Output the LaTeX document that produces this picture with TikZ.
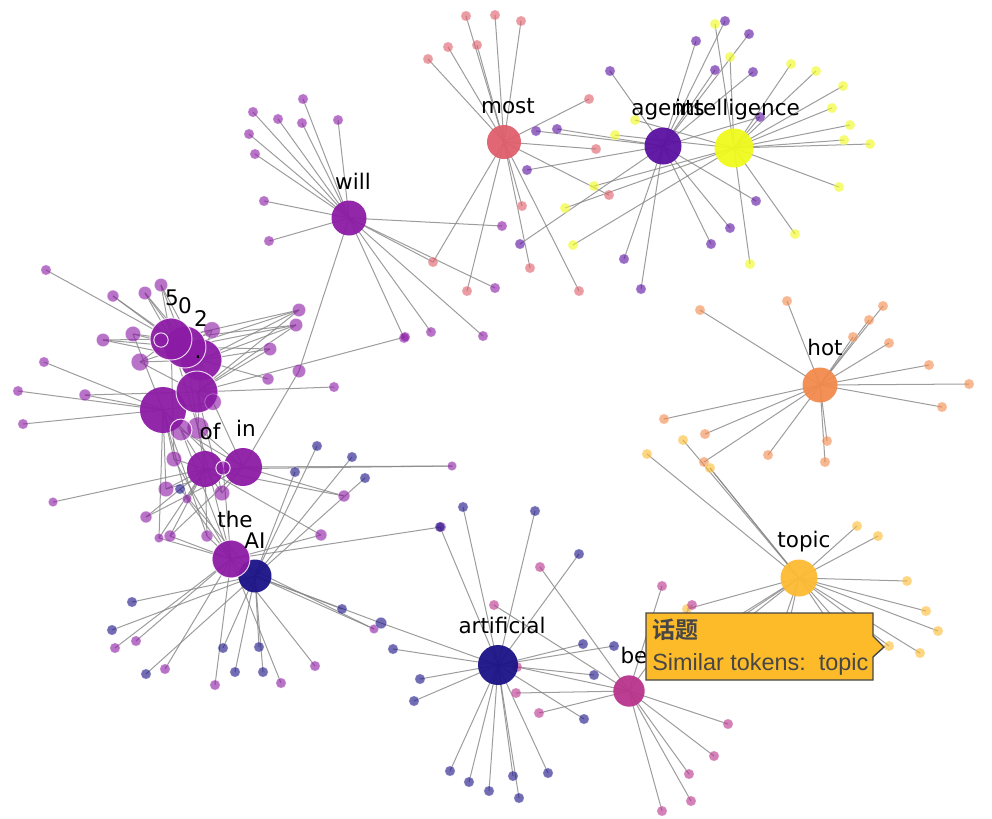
\documentclass[tikz,border=0pt]{standalone}
\usepackage{fontspec}
\setmainfont{DejaVu Sans}
\newfontfamily\tipfont{Liberation Sans}
\newfontfamily\cjk[BoldFont={Noto Sans CJK SC Bold}]{Noto Sans CJK SC}
\definecolor{willc}{HTML}{8C1BA5}
\definecolor{mostc}{HTML}{DE5F6B}
\definecolor{agentsc}{HTML}{5A10A0}
\definecolor{intelc}{HTML}{EFFA1C}
\definecolor{hotc}{HTML}{F28A4C}
\definecolor{topicc}{HTML}{FDBB33}
\definecolor{artc}{HTML}{1B1287}
\definecolor{bec}{HTML}{B8348C}
\definecolor{tipc}{HTML}{FDBB2A}
\definecolor{tiptext}{HTML}{464646}
\pgfdeclarelayer{links}
\pgfsetlayers{links,main}
\tikzset{
  hub/.style={circle,inner sep=0pt,minimum size=2*#1*0.025cm,fill opacity=.95},
  whitehub/.style={hub=#1,draw=white,draw opacity=.8,line width=.7pt},
  leaf/.style={circle,inner sep=0pt,minimum size=2.2*#1*0.025cm,fill opacity=.62,draw=white,draw opacity=.35,line width=.5pt},
  ringleaf/.style={leaf=#1,draw opacity=.85,line width=.7pt},
  link/.style={draw=black!48,line width=.72pt,opacity=.8},
  toklabel/.style={anchor=base,inner sep=0pt,font=\fontsize{15.3}{15.3}\selectfont},
}
% #1 colour, #2 id/x/y/radius/{hubs}
\newcommand{\leaves}[2]{%
  \foreach \i/\x/\y/\lr/\hubs in {#2}{%
    \node[leaf=\lr,fill=#1] (#1\i) at (\x,\y) {};
    \begin{pgfonlayer}{links}
      \foreach \h in \hubs {\draw[link] (\h.center) -- (#1\i.center);}
    \end{pgfonlayer}
  }%
}

\begin{document}
\begin{tikzpicture}[x=0.025cm,y=-0.025cm]
\useasboundingbox (0,0) rectangle (992,818);
%%Leaf behind the hub
\node[leaf=4.7,fill=bec] (bec5) at (517,667) {};
%%Hubs
\node[hub=17.5,fill=willc] (will) at (349,218) {};
\node[hub=17,fill=mostc] (most) at (504,142) {};
\node[hub=18.5,fill=agentsc] (agents) at (663,146) {};
\node[hub=19.5,fill=intelc] (intelligence) at (734,148) {};
\node[hub=17.5,fill=hotc] (hot) at (820,385) {};
\node[hub=18.5,fill=topicc] (topic) at (799,578) {};
\node[hub=20,fill=artc] (artificial) at (498,665) {};
\node[hub=15.7,fill=bec] (be) at (629,691) {};
\node[hub=16.5,fill=artc] (ai) at (255,576) {};
\node[whitehub=19,fill=willc] (the) at (231,559) {};
\node[hub=18,fill=willc] (of) at (205,469) {};
\node[hub=19,fill=willc] (in) at (243,467) {};
\node[hub=23,fill=willc] (big) at (163,410) {};
\node[whitehub=21,fill=willc] (two) at (201,360) {};
\node[whitehub=21,fill=willc] (dot) at (197,392) {};
\node[whitehub=21,fill=willc] (zero) at (185,347) {};
\node[whitehub=21,fill=willc] (five) at (171,339) {};

%%Leaves
\leaves{willc}{
  w1/253/112/4.7/{will}, w2/303/99/4.7/{will}, w3/278/119/4.7/{will}, w4/302/123/4.7/{will},
  w5/338/120/4.7/{will}, w6/249/134/4.7/{will}, w7/255/154/4.7/{will}, w8/264/201/4.7/{will},
  w9/269/241/4.7/{will}, w10/502/226/4.7/{will}, w11/495/288/4.7/{will}, w12/431/332/4.7/{will},
  w13/483/336/4.7/{will}, w14/404/338/4.7/{will},
  c1/46/270/4.7/{five}, c2/113/296/5.3/{five,zero}, c3/145/293/6/{five,zero,two},
  c4/161/285/6/{five,zero,two}, c5/103/340/6/{five,zero,two}, c6/133/334/7/{five,zero,big},
  c7/140/362/8/{five,zero,two,dot}, c8/44/362/4.7/{big}, c9/18/391/4.7/{big},
  c10/85/395/5.3/{big,dot}, c11/23/424/4.7/{big}, c12/212/330/7.5/{five,zero,two},
  c13/299/310/6/{five,zero,two,dot}, c14/296/325/6/{five,zero,two,dot},
  c15/270/349/6/{zero,two,dot}, c16/268/379/5.3/{two}, c17/299/371/6/{in,will},
  c18/334/387/4.7/{dot}, c19/213/402/7.5/{five,zero,two,dot,big,in},
  c20/198/428/10/{five,zero,two,of,in,the}, c21/174/459/7/{five,big,of,the},
  c22/166/489/7/{big,of,in}, c23/187/499/4.3/{of,big,the}, c24/222/493/7/{of,in,dot},
  c25/53/502/4.3/{of}, c26/146/517/5.3/{of,in}, c27/159/538/4.3/{big,of,the},
  c28/170/536/5.3/{of,in,the}, c29/207/536/5.3/{big,the,of}, c30/321/535/5.3/{of,the},
  c31/344/496/5.3/{in,of}, c32/452/466/4.3/{in,of}, c33/374/629/4.3/{the,ai},
  c34/315/666/4.7/{the}, c35/281/683/4.7/{the}, c36/215/685/4.7/{the}, c37/165/669/4.7/{the},
  c38/136/641/4.7/{the}, c39/115/648/4.7/{the}, c40/441/527/4.7/{the}, c41/405/337/4.7/{dot}}
\leaves{mostc}{
  1/466/16/4.7/{most}, 2/495/15/4.7/{most}, 3/521/21/4.7/{most}, 4/448/47/4.7/{most},
  5/477/45/4.7/{most}, 6/428/59/4.7/{most}, 7/589/99/4.7/{most}, 8/596/149/4.7/{most},
  9/609/195/4.7/{most}, 10/522/206/4.7/{most}, 11/530/268/4.7/{most}, 12/467/291/4.7/{most},
  13/433/262/4.7/{most,will}, 14/579/291/4.7/{most}}
\leaves{agentsc}{
  1/610/71/4.7/{agents}, 2/696/41/4.7/{agents}, 3/725/21/4.7/{agents}, 4/749/34/4.7/{agents},
  5/715/70/4.7/{agents}, 6/753/72/4.7/{agents}, 7/760/117/4.7/{agents,intelligence},
  8/557/129/4.7/{agents}, 9/536/131/4.7/{agents}, 10/527/170/4.7/{agents}, 11/520/244/4.7/{agents},
  12/624/259/4.7/{agents}, 13/641/289/4.7/{agents}, 14/711/244/4.7/{agents}, 15/730/228/4.7/{agents},
  16/756/201/4.7/{agents}}
\leaves{intelc}{
  1/715/24/4.7/{intelligence}, 2/730/57/4.7/{intelligence}, 3/791/64/4.7/{intelligence},
  4/816/71/4.7/{intelligence}, 5/843/86/4.7/{intelligence}, 6/832/108/4.7/{intelligence},
  7/850/125/4.7/{intelligence}, 8/844/140/4.7/{intelligence}, 9/870/144/4.7/{intelligence},
  10/839/187/4.7/{intelligence}, 11/795/234/4.7/{intelligence}, 12/750/264/4.7/{intelligence},
  13/573/245/4.7/{intelligence}, 14/565/208/4.7/{intelligence}, 15/594/186/4.7/{intelligence},
  16/615/135/4.7/{intelligence}, 17/635/120/4.7/{intelligence}}
\leaves{hotc}{
  1/700/310/4.7/{hot}, 2/787/301/4.7/{hot}, 3/883/306/4.7/{hot}, 4/869/320/4.7/{hot},
  5/853/337/4.7/{hot}, 6/889/343/4.7/{hot}, 7/929/365/4.7/{hot}, 8/969/384/4.7/{hot},
  9/942/407/4.7/{hot}, 10/664/419/4.7/{hot}, 11/705/434/4.7/{hot}, 12/704/462/4.7/{hot},
  13/768/455/4.7/{hot}, 14/827/441/4.7/{hot}, 15/825/462/4.7/{hot}}
\leaves{topicc}{
  1/683/440/4.7/{topic}, 2/647/454/4.7/{topic}, 3/710/468/4.7/{topic,topic},
  4/857/526/4.7/{topic}, 5/878/536/4.7/{topic}, 6/907/581/4.7/{topic}, 7/926/611/4.7/{topic},
  8/938/631/4.7/{topic}, 9/920/653/4.7/{topic}, 10/889/646/4.7/{topic}, 11/687/609/4.7/{topic},
  12/700/640/4.7/{topic}, 13/695/648/4.7/{topic}, 14/710/648/4.7/{topic}, 15/772/655/4.7/{topic},
  16/782/655/4.7/{topic}, 17/848/650/4.7/{topic}, 18/862/650/4.7/{topic}}
\leaves{artc}{
  1/463/507/4.7/{artificial}, 2/535/511/4.7/{artificial}, 3/440/527/4.7/{artificial},
  4/579/554/4.7/{artificial}, 5/381/623/5.2/{artificial,ai}, 6/393/649/4.7/{artificial},
  7/420/679/4.7/{artificial}, 8/414/701/4.7/{artificial}, 9/583/644/4.7/{artificial},
  10/614/646/4.7/{artificial}, 11/594/675/4.7/{artificial}, 12/584/719/4.7/{artificial},
  13/450/771/4.7/{artificial}, 14/469/782/4.7/{artificial}, 15/489/791/4.7/{artificial},
  16/513/776/4.7/{artificial}, 17/519/798/4.7/{artificial}, 18/548/773/4.7/{artificial},
  a1/317/446/4.7/{ai}, a2/352/457/4.7/{ai}, a3/295/472/4.7/{ai}, a4/365/478/4.7/{ai},
  a5/180/489/4.7/{ai}, a6/132/602/4.7/{ai}, a7/112/630/4.7/{ai}, a8/146/674/4.7/{ai},
  a9/223/648/4.7/{ai}, a10/259/647/4.7/{ai}, a11/235/672/4.7/{ai}, a12/263/672/4.7/{ai},
  a13/342/609/4.7/{ai}}
\leaves{bec}{
  1/662/586/4.7/{be}, 2/540/567/4.7/{be}, 3/494/605/4.7/{be}, 4/692/605/4.7/{be},
  6/516/693/4.7/{be}, 7/539/713/4.7/{be}, 8/728/724/4.7/{be},
  9/714/756/4.7/{be}, 10/689/774/4.7/{be}, 11/691/801/4.7/{be}, 12/662/811/4.7/{be}}
\node[ringleaf=6.5,fill=willc] (ringfive) at (161,340) {};
\node[ringleaf=6.5,fill=willc] (ringof) at (223,468) {};
\node[ringleaf=10,fill=willc] (ringbig) at (181,430) {};
\begin{pgfonlayer}{links}
\draw[link] (be.center) -- (bec5.center);
\draw[link] (five.center) -- (ringfive.center);
\draw[link] (big.center) -- (ringof.center);
\draw[link] (the.center) -- (ringof.center);
\draw[link] (big.center) -- (ringbig.center);
\draw[link] (of.center) -- (ringbig.center);
\draw[link] (in.center) -- (ringbig.center);
\draw[link] (the.center) -- (ringbig.center);
\end{pgfonlayer}

%%Label
\node[toklabel] (willtext) at (353,189) {will};
\node[toklabel] (mosttext) at (508,113) {most};
\node[toklabel] (agentstext) at (668,115) {agents};
\node[toklabel] (inteltext) at (737.5,115) {intelligence};
\node[toklabel] (hottext) at (825,355) {hot};
\node[toklabel] (topictext) at (804,547) {topic};
\node[toklabel] (arttext) at (502,633) {artificial};
\node[toklabel] (betext) at (634,663) {be};
\node[toklabel] (thetext) at (235,527) {the};
\node[toklabel] (aitext) at (255,548) {AI};
\node[toklabel] (intext) at (246,436) {in};
\node[toklabel] (oftext) at (210,439) {of};
\node[toklabel] (fivetext) at (172,305) {5};
\node[toklabel] (zerotext) at (185,313) {0};
\node[toklabel] (twotext) at (201,326) {2};
\node[toklabel] (dottext) at (198,358) {.};

%%Tooltip
\draw[fill=tipc,draw=tiptext,line width=1pt] (646,613) -- (873,613) -- (873,636) -- (884,647)
  -- (873,657) -- (873,680) -- (646,680) -- cycle;
\node[anchor=base west,inner sep=0pt,text=tiptext,font=\cjk\bfseries\fontsize{16.4}{16.4}\selectfont] (tiptitle) at (652,638) {话题};
\node[anchor=base west,inner sep=0pt,text=tiptext,font=\tipfont\fontsize{16.65}{16.65}\selectfont] (tipbody) at (652,670) {Similar tokens:\ \ topic};
\end{tikzpicture}
\end{document}
